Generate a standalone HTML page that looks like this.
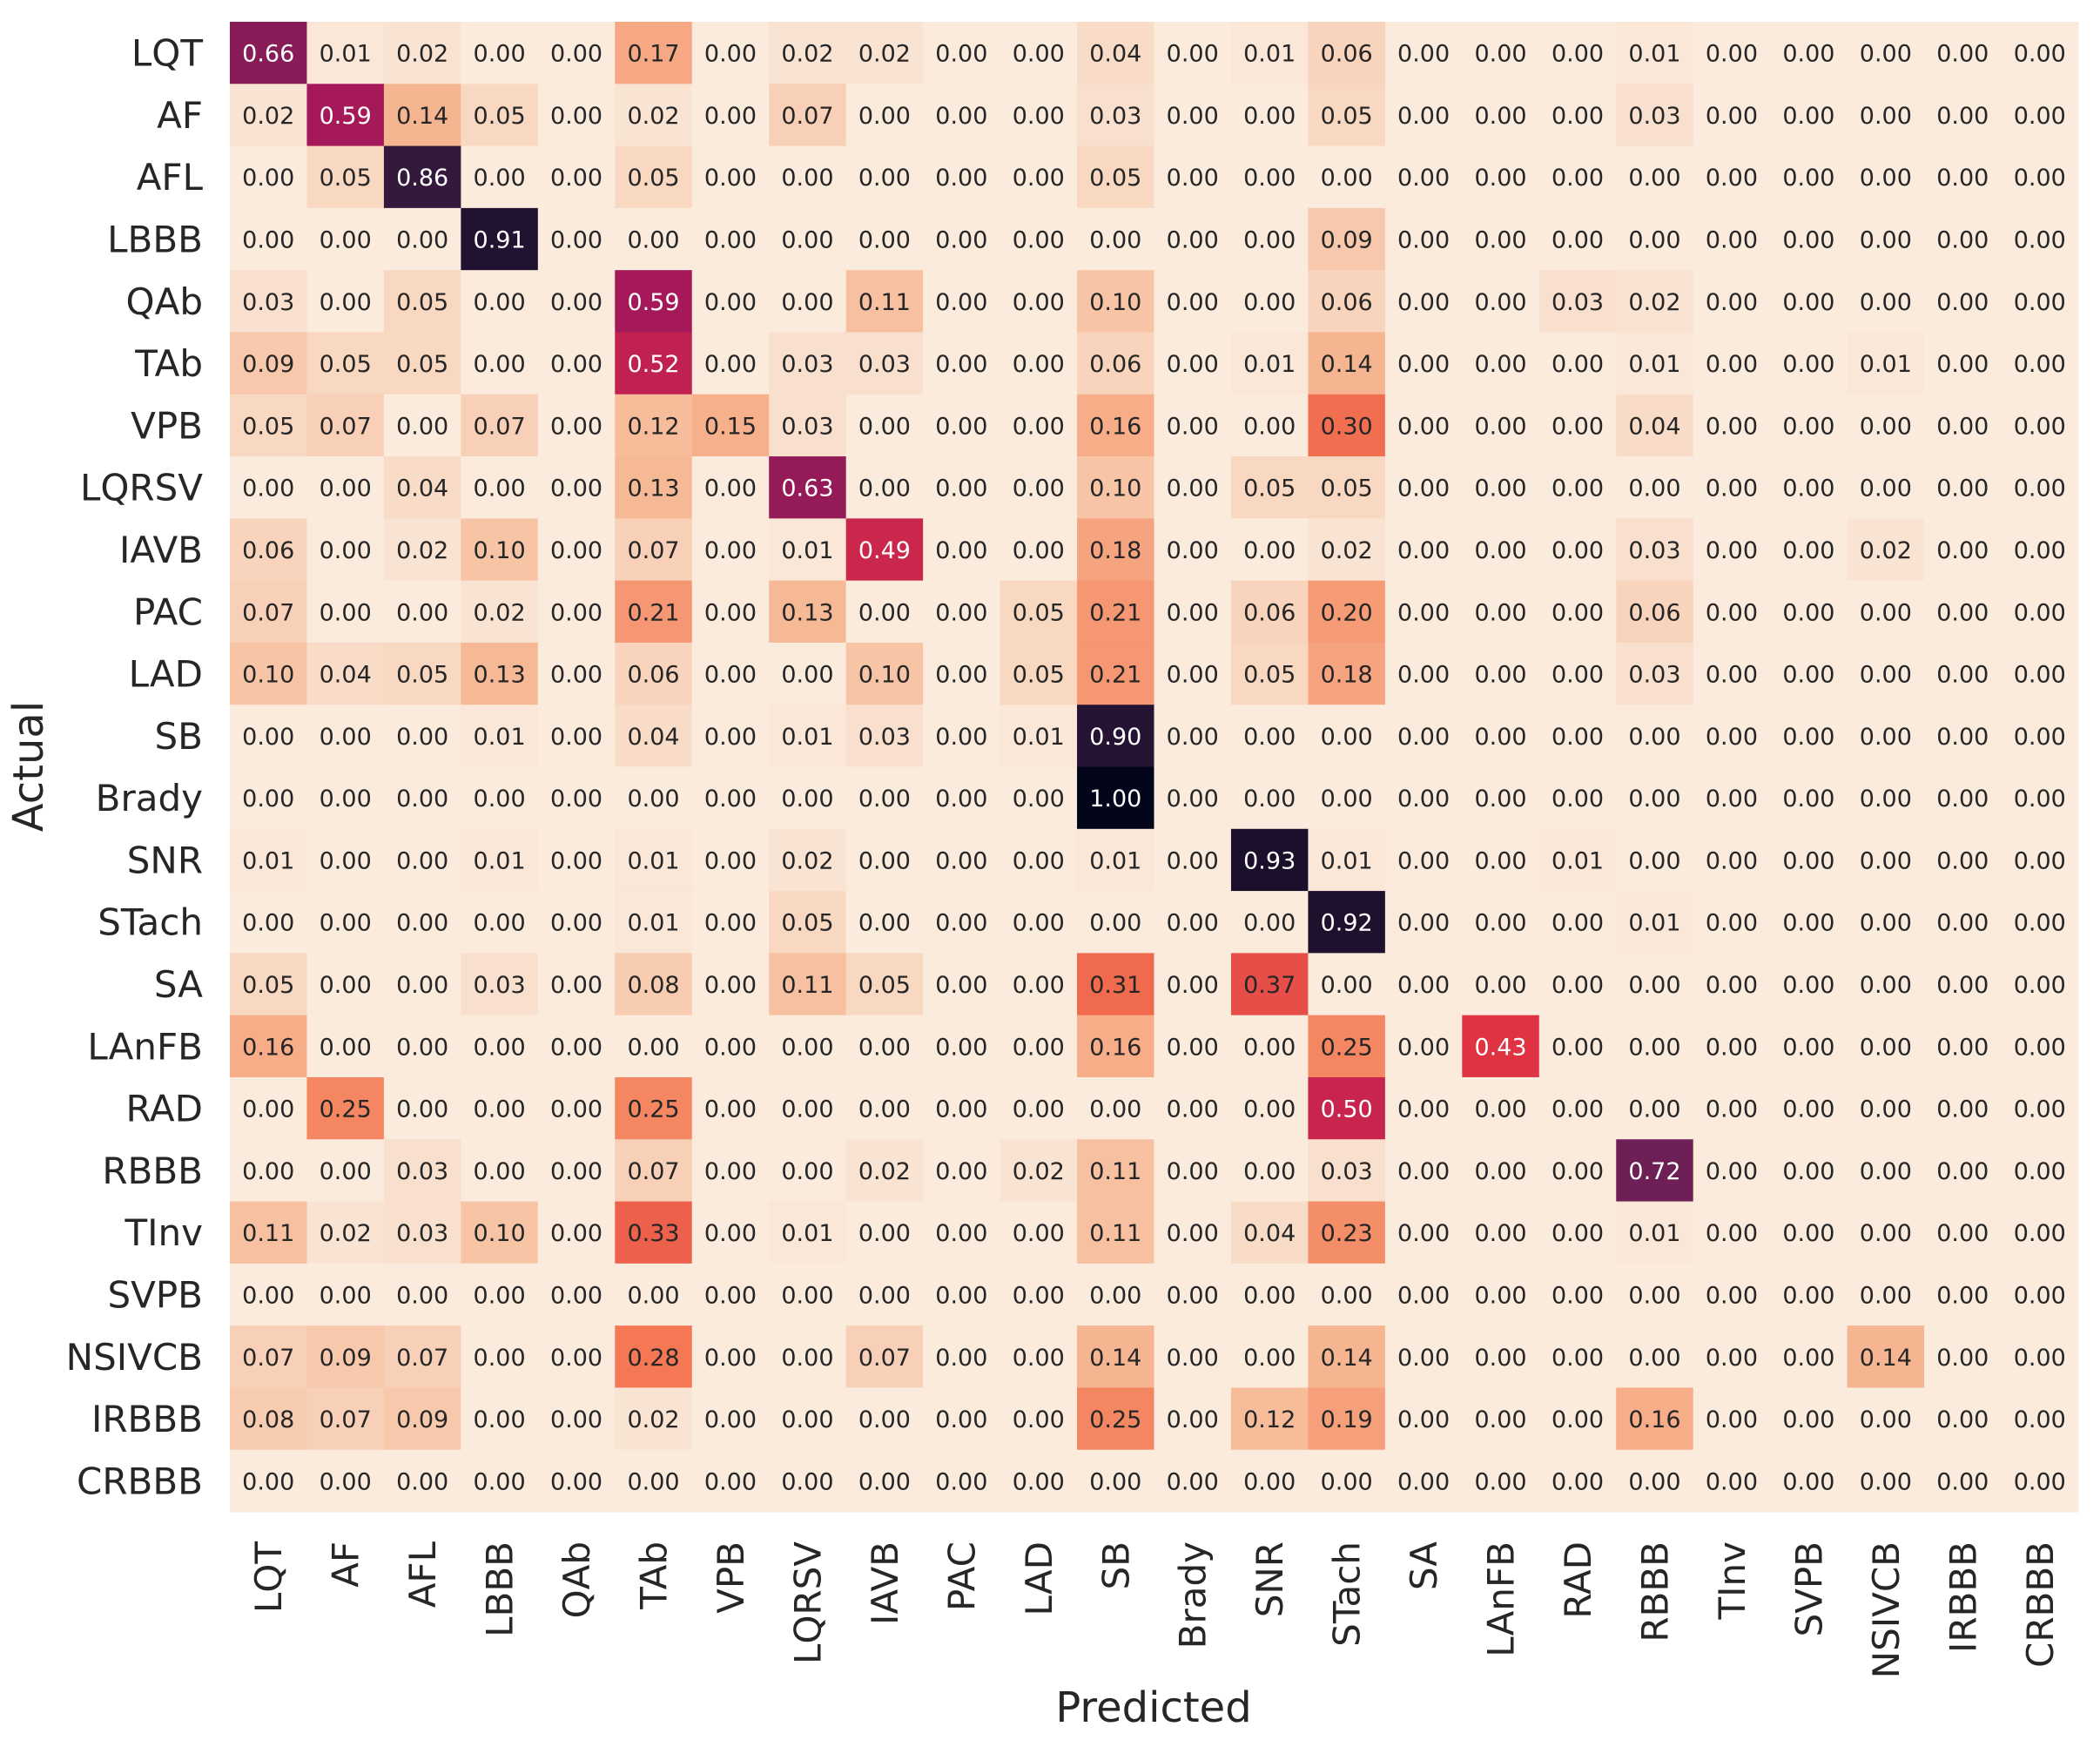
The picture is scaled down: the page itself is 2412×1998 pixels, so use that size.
<!DOCTYPE html>
<html><head><meta charset="utf-8">
<style>
html,body{margin:0;padding:0;background:#fff;}
svg{display:block;}
text{font-family:"DejaVu Sans","Liberation Sans",sans-serif;}
</style></head>
<body>
<svg id="s" width="2412" height="1998" viewBox="0 0 2412 1998" xmlns="http://www.w3.org/2000/svg"></svg>
<script>
var labels=["LQT","AF","AFL","LBBB","QAb","TAb","VPB","LQRSV","IAVB","PAC","LAD","SB","Brady","SNR","STach","SA","LAnFB","RAD","RBBB","TInv","SVPB","NSIVCB","IRBBB","CRBBB"];
function row(o){var r=new Array(24).fill(0);for(var k in o)r[k]=o[k];return r;}
var M=[
row({0:.66,1:.01,2:.02,5:.17,7:.02,8:.02,11:.04,13:.01,14:.06,18:.01}),
row({0:.02,1:.59,2:.14,3:.05,5:.02,7:.07,11:.03,14:.05,18:.03}),
row({1:.05,2:.86,5:.05,11:.05}),
row({3:.91,14:.09}),
row({0:.03,2:.05,5:.59,8:.11,11:.10,14:.06,17:.03,18:.02}),
row({0:.09,1:.05,2:.05,5:.52,7:.03,8:.03,11:.06,13:.01,14:.14,18:.01,21:.01}),
row({0:.05,1:.07,3:.07,5:.12,6:.15,7:.03,11:.16,14:.30,18:.04}),
row({2:.04,5:.13,7:.63,11:.10,13:.05,14:.05}),
row({0:.06,2:.02,3:.10,5:.07,7:.01,8:.49,11:.18,14:.02,18:.03,21:.02}),
row({0:.07,3:.02,5:.21,7:.13,10:.05,11:.21,13:.06,14:.20,18:.06}),
row({0:.10,1:.04,2:.05,3:.13,5:.06,8:.10,10:.05,11:.21,13:.05,14:.18,18:.03}),
row({3:.01,5:.04,7:.01,8:.03,10:.01,11:.90}),
row({11:1.0}),
row({0:.01,3:.01,5:.01,7:.02,11:.01,13:.93,14:.01,17:.01}),
row({5:.01,7:.05,14:.92,18:.01}),
row({0:.05,3:.03,5:.08,7:.11,8:.05,11:.31,13:.37}),
row({0:.16,11:.16,14:.25,16:.43}),
row({1:.25,5:.25,14:.50}),
row({2:.03,5:.07,8:.02,10:.02,11:.11,14:.03,18:.72}),
row({0:.11,1:.02,2:.03,3:.10,5:.33,7:.01,11:.11,13:.04,14:.23,18:.01}),
row({}),
row({0:.07,1:.09,2:.07,5:.28,8:.07,11:.14,14:.14,21:.14}),
row({0:.08,1:.07,2:.09,5:.02,11:.25,13:.12,14:.19,18:.16}),
row({})
];
var anchors=[[0,"#03051a"],[1/7,"#35193e"],[2/7,"#701f57"],[3/7,"#ad1759"],[4/7,"#e13342"],[5/7,"#f37651"],[6/7,"#f6b48f"],[1,"#faebdd"]];
function hx(h){return [parseInt(h.substr(1,2),16),parseInt(h.substr(3,2),16),parseInt(h.substr(5,2),16)];}
function rocket(t){for(var i=0;i<anchors.length-1;i++){var a=anchors[i],b=anchors[i+1];if(t<=b[0]){var f=(t-a[0])/(b[0]-a[0]);var c1=hx(a[1]),c2=hx(b[1]);return c1.map(function(v,j){return Math.round(v+(c2[j]-v)*f);});}}return hx("#faebdd");}
var X0=264,Y0=25,W=(2387-264)/24,H=(1736-25)/24;
var s='';
for(var r=0;r<24;r++){for(var c=0;c<24;c++){var v=M[r][c];var col=rocket(1-v);
var x=X0+c*W,y=Y0+r*H;
s+='<rect x="'+x.toFixed(2)+'" y="'+y.toFixed(2)+'" width="'+(W+0.6).toFixed(2)+'" height="'+(H+0.6).toFixed(2)+'" fill="rgb('+col.join(',')+')"/>';
var lum=(0.2126*col[0]+0.7152*col[1]+0.0722*col[2])/255;
var tc=lum>0.408?"#262626":"#ffffff";
s+='<text x="'+(x+W/2).toFixed(2)+'" y="'+(y+H/2+10).toFixed(2)+'" font-size="27" fill="'+tc+'" text-anchor="middle">'+v.toFixed(2)+'</text>';
}}
for(var i=0;i<24;i++){
s+='<text x="233" y="'+(Y0+i*H+H/2+15).toFixed(2)+'" font-size="42" fill="#262626" text-anchor="end">'+labels[i]+'</text>';
var cx=X0+i*W+W/2+15;
s+='<text transform="translate('+cx.toFixed(2)+',1770) rotate(-90)" font-size="42" fill="#262626" text-anchor="end">'+labels[i]+'</text>';
}
s+='<text x="1325" y="1977" font-size="48" fill="#262626" text-anchor="middle">Predicted</text>';
s+='<text transform="translate(49,880) rotate(-90)" font-size="48" fill="#262626" text-anchor="middle">Actual</text>';
document.getElementById('s').innerHTML=s;
</script>
</body></html>
